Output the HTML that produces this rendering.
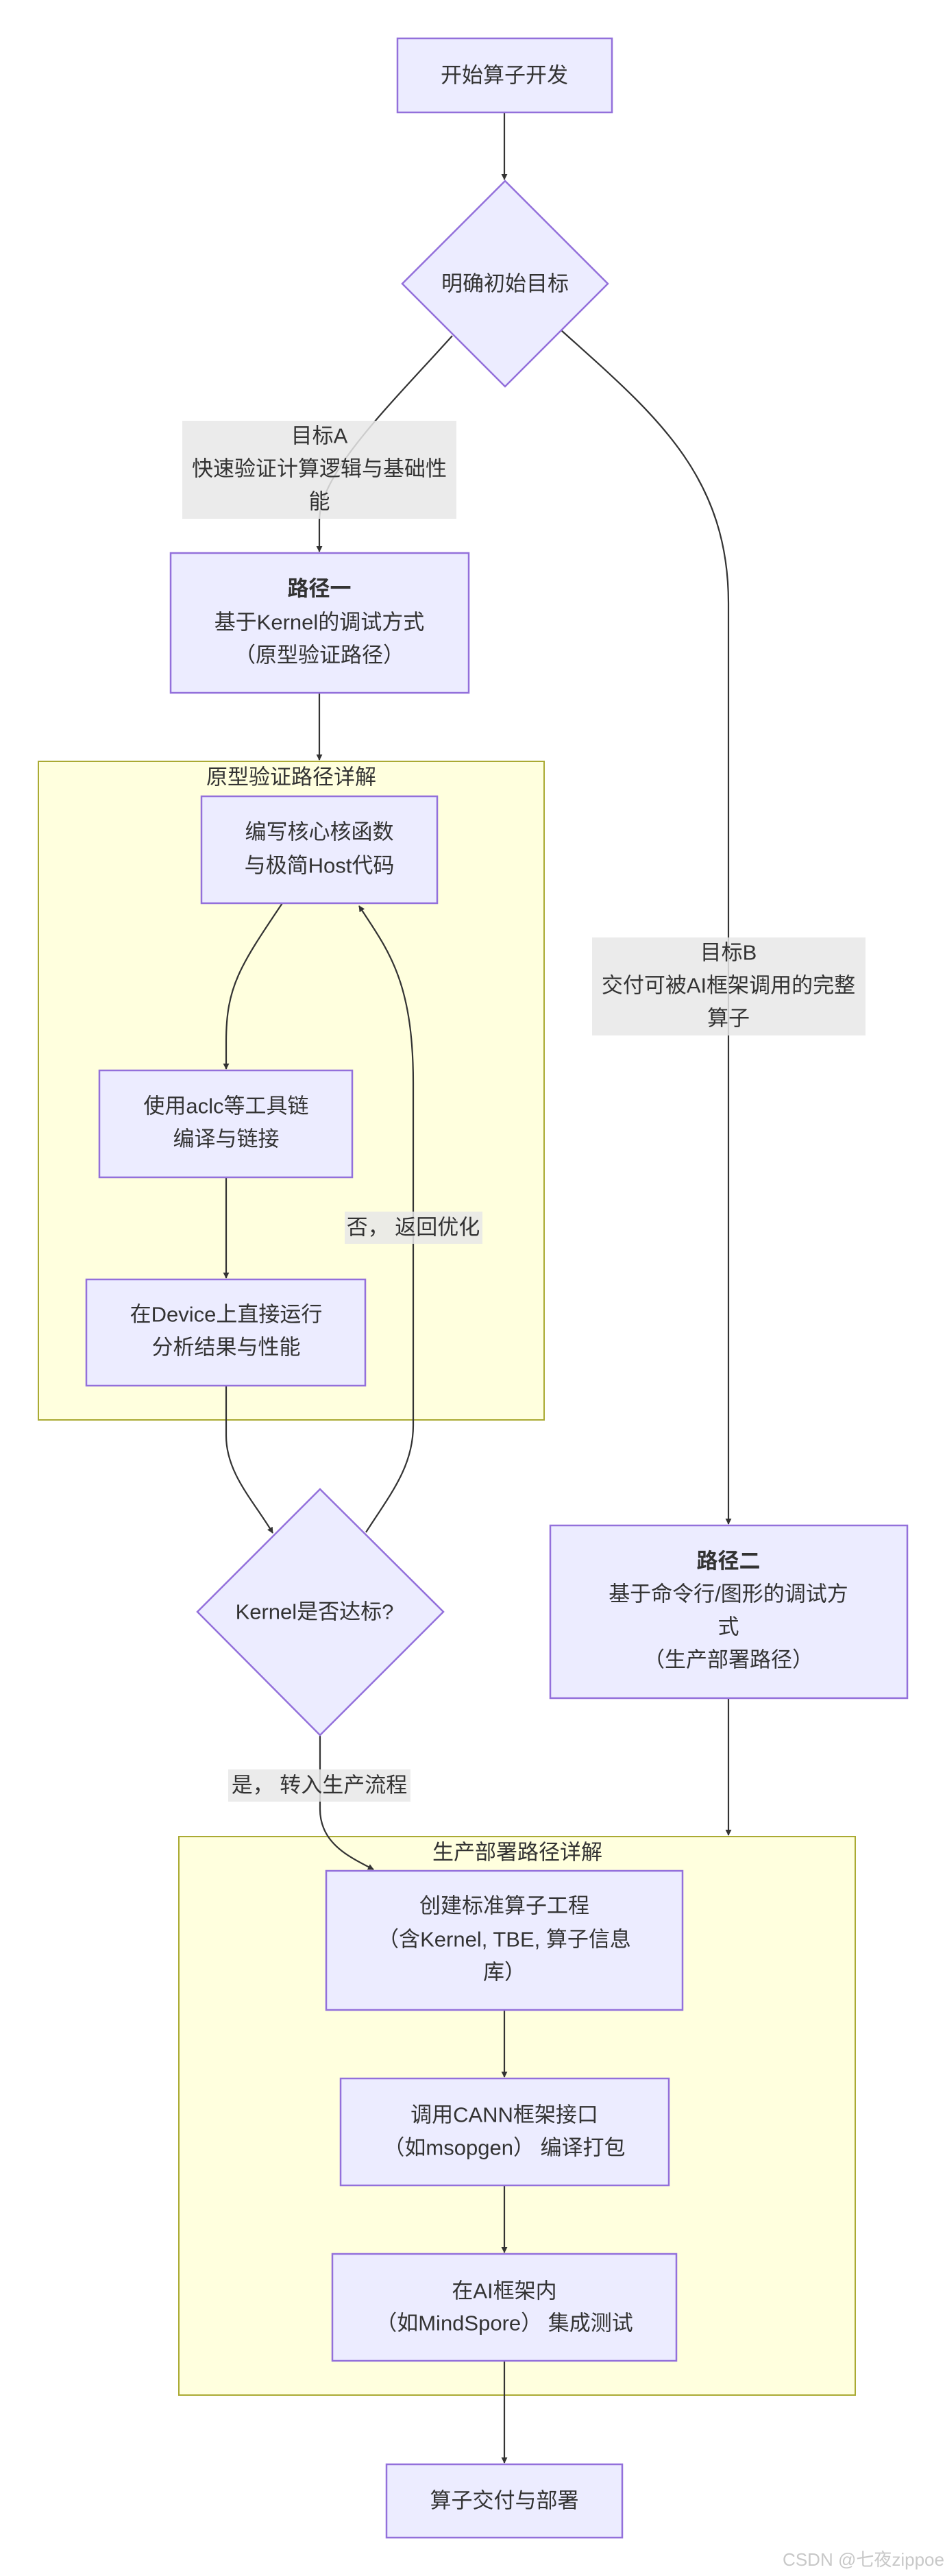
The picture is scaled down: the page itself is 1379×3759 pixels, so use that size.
<!DOCTYPE html>
<html><head><meta charset="utf-8"><style>
html,body{margin:0;padding:0;background:#fff;}
svg{display:block;}
text{font-family:"Liberation Sans","Noto Sans CJK SC",sans-serif;fill:#333;font-size:31px;text-anchor:middle;dominant-baseline:central;}
.n{fill:#ECECFF;stroke:#9370DB;stroke-width:2.5;}
.c{fill:#ffffde;stroke:#aaaa33;stroke-width:2;}
.e{fill:none;stroke:#333;stroke-width:2.2;}
.l{fill:rgba(232,232,232,0.85);stroke:none;}
.b{font-weight:bold;}
</style></head><body>
<svg width="1379" height="3759" viewBox="0 0 1379 3759" xmlns="http://www.w3.org/2000/svg">
<defs><marker id="a" viewBox="0 0 10 10" refX="9" refY="5" markerWidth="9" markerHeight="9" markerUnits="userSpaceOnUse" orient="auto"><path d="M0,0L10,5L0,10z" fill="#333"/></marker></defs>
<!-- clusters -->
<rect class="c" x="56" y="1111" width="738" height="961"/>
<text x="425" y="1134">原型验证路径详解</text>
<rect class="c" x="261" y="2680" width="987" height="815"/>
<text x="755" y="2703">生产部署路径详解</text>

<!-- edges -->
<path class="e" d="M736,164L736,262" marker-end="url(#a)"/>
<path class="e" d="M660,490C570,590 466,690 466,760L466,805" marker-end="url(#a)"/>
<path class="e" d="M819,482C950,600 1063,690 1063,880L1063,2224" marker-end="url(#a)"/>
<path class="e" d="M466,1011L466,1109" marker-end="url(#a)"/>
<path class="e" d="M412,1318C350,1410 330,1440 330,1520L330,1560" marker-end="url(#a)"/>
<path class="e" d="M330,1718L330,1865" marker-end="url(#a)"/>
<path class="e" d="M330,2022L330,2095C330,2150 370,2190 398,2237" marker-end="url(#a)"/>
<path class="e" d="M534,2236C570,2180 603,2140 603,2080L603,1580C603,1430 565,1385 524,1322" marker-end="url(#a)"/>
<path class="e" d="M467,2532L467,2640C467,2690 510,2710 545,2728" marker-end="url(#a)"/>
<path class="e" d="M1063,2478L1063,2678" marker-end="url(#a)"/>
<path class="e" d="M736,2933L736,3031" marker-end="url(#a)"/>
<path class="e" d="M736,3189L736,3287" marker-end="url(#a)"/>
<path class="e" d="M736,3445L736,3594" marker-end="url(#a)"/>

<!-- nodes -->
<rect class="n" x="580" y="56" width="313" height="108"/>
<text x="736" y="110">开始算子开发</text>
<polygon class="n" points="737,264 887,414 737,564 587,414"/>
<text x="737" y="414">明确初始目标</text>
<rect class="n" x="249" y="807" width="435" height="204"/>
<text x="466" y="859" class="b">路径一</text>
<text x="466" y="908">基于Kernel的调试方式</text>
<text x="466" y="956">（原型验证路径）</text>

<rect class="n" x="294" y="1162" width="344" height="156"/>
<text x="466" y="1214">编写核心核函数</text>
<text x="466" y="1263">与极简Host代码</text>
<rect class="n" x="145" y="1562" width="369" height="156"/>
<text x="330" y="1614">使用aclc等工具链</text>
<text x="330" y="1662">编译与链接</text>
<rect class="n" x="126" y="1867" width="407" height="155"/>
<text x="330" y="1918">在Device上直接运行</text>
<text x="330" y="1966">分析结果与性能</text>
<polygon class="n" points="467,2173 647,2352 467,2532 288,2352"/>
<text x="459" y="2352">Kernel是否达标?</text>

<rect class="n" x="803" y="2226" width="521" height="252"/>
<text x="1063" y="2278" class="b">路径二</text>
<text x="1063" y="2326">基于命令行/图形的调试方</text>
<text x="1063" y="2374">式</text>
<text x="1063" y="2422">（生产部署路径）</text>

<rect class="n" x="476" y="2730" width="520" height="203"/>
<text x="736" y="2781">创建标准算子工程</text>
<text x="736" y="2830">（含Kernel, TBE, 算子信息</text>
<text x="736" y="2878">库）</text>
<rect class="n" x="497" y="3033" width="479" height="156"/>
<text x="736" y="3086">调用CANN框架接口</text>
<text x="736" y="3134">（如msopgen） 编译打包</text>
<rect class="n" x="485" y="3289" width="502" height="156"/>
<text x="736" y="3343">在AI框架内</text>
<text x="736" y="3390">（如MindSpore） 集成测试</text>
<rect class="n" x="564" y="3596" width="344" height="107"/>
<text x="736" y="3649">算子交付与部署</text>

<!-- edge labels -->
<rect class="l" x="266" y="614" width="400" height="143"/>
<text x="466" y="636">目标A</text>
<text x="466" y="684">快速验证计算逻辑与基础性</text>
<text x="466" y="732">能</text>
<rect class="l" x="864" y="1368" width="399" height="143"/>
<text x="1063" y="1390">目标B</text>
<text x="1063" y="1438">交付可被AI框架调用的完整</text>
<text x="1063" y="1486">算子</text>
<rect class="l" x="503" y="1768" width="201" height="47"/>
<text x="603" y="1791">否， 返回优化</text>
<rect class="l" x="333" y="2582" width="266" height="47"/>
<text x="466" y="2605">是， 转入生产流程</text>

<text x="1260" y="3735" style="fill:#c8c8c8;font-size:26px;">CSDN @七夜zippoe</text>
</svg>
</body></html>
